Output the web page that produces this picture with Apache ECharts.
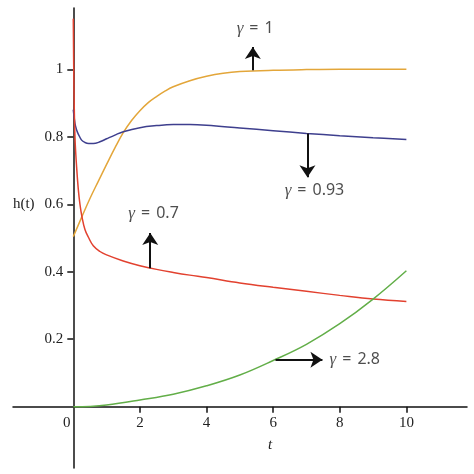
<!DOCTYPE html>
<html>
<head>
<meta charset="utf-8">
<script src="https://cdn.jsdelivr.net/npm/echarts@6/dist/echarts.min.js"></script>
<style>
html,body{margin:0;padding:0;background:#fff;}
#chart{width:474px;height:474px;}
</style>
</head>
<body>
<div id="chart"></div>
<script>
// ---- data ----
const xTicks = [2, 4, 6, 8, 10];
const xLabels = [0, 2, 4, 6, 8, 10];
const yTicks = [0.2, 0.4, 0.6, 0.8, 1];

const gamma1 = [[0,0.504],[0.25,0.561],[0.5,0.617],[0.75,0.668],[1.0,0.718],[1.25,0.767],[1.5,0.812],[1.75,0.848],[2.0,0.877],[2.25,0.901],[2.5,0.919],[2.75,0.935],[3.0,0.948],[3.5,0.966],[4.0,0.979],[4.5,0.988],[5.0,0.993],[6,0.997],[7,0.999],[8,1.0],[10,1.0]];
const gamma093 = [[0,0.88],[0.05,0.84],[0.1,0.82],[0.15,0.808],[0.25,0.79],[0.35,0.783],[0.46,0.78],[0.6,0.78],[0.8,0.785],[1.0,0.794],[1.25,0.805],[1.5,0.815],[2.0,0.827],[2.5,0.833],[3.0,0.836],[3.5,0.836],[4.0,0.834],[5,0.826],[6,0.818],[7,0.81],[8,0.803],[9,0.797],[10,0.792]];
const gamma07 = [[0,1.15],[0.02,0.95],[0.05,0.8],[0.1,0.71],[0.15,0.645],[0.2,0.6],[0.26,0.563],[0.35,0.525],[0.45,0.503],[0.6,0.477],[0.8,0.46],[1.0,0.45],[1.5,0.432],[2.0,0.418],[2.5,0.407],[3.0,0.398],[3.5,0.39],[4,0.383],[5,0.367],[6,0.354],[7,0.342],[8,0.33],[9,0.319],[10,0.312]];
const gamma28 = [[0,0],[0.5,0.001],[1,0.005],[2,0.02],[3,0.037],[4,0.062],[5,0.094],[6,0.137],[7,0.185],[8,0.246],[9,0.319],[10,0.403]];

// annotation arrows [x1, y1, x2, y2] and labels [x, y, text] in data units
const arrows = [[5.39,0.997,5.39,1.066],[7.03,0.81,7.03,0.68],[2.31,0.41,2.31,0.515],[6.07,0.139,7.48,0.139]];
const notes = [[5.46,1.12,'1'],[7.24,0.642,'0.93'],[2.41,0.573,'0.7'],[8.45,0.141,'2.8']];

const serif = '"Liberation Serif","DejaVu Serif",serif';
const sans = '"Noto Sans","DejaVu Sans",sans-serif';
const chart = echarts.init(document.getElementById('chart'), null, {renderer:'canvas'});
const G = {left:13, right:7, top:8, bottom:6};

function lineSeries(data, color){
  return {type:'line', data:data, smooth:0.4, showSymbol:false, symbol:'none',
    lineStyle:{color:color, width:1.5}, silent:true, animation:false};
}

chart.setOption({
  animation:false,
  backgroundColor:'#fff',
  grid:{left:G.left, right:G.right, top:G.top, bottom:G.bottom, containLabel:false, outerBoundsMode:'none'},
  xAxis:{
    type:'value', min:-1.81, max:11.82,
    axisLine:{onZero:false, lineStyle:{color:'#111', width:1.5}},
    axisTick:{show:true, customValues:xTicks, length:6, lineStyle:{color:'#111', width:1.5}},
    axisLabel:{customValues:xLabels, margin:9, color:'#222', fontFamily:serif, fontSize:15,
      formatter:function(v){ return v===0 ? '{z|0}' : String(v); },
      rich:{z:{padding:[0,13,0,0], fontFamily:serif, fontSize:15, color:'#222'}}},
    splitLine:{show:false},
    name:'t', nameLocation:'middle', nameGap:31,
    nameTextStyle:{fontFamily:serif, fontStyle:'italic', fontSize:15, color:'#222', padding:[0,0,0,60]}
  },
  yAxis:{
    type:'value', min:-0.1815, max:1.1815,
    axisLine:{onZero:false, lineStyle:{color:'#111', width:1.5}},
    axisTick:{show:true, customValues:yTicks, length:6, lineStyle:{color:'#111', width:1.5}},
    axisLabel:{customValues:yTicks, margin:10, color:'#222', fontFamily:serif, fontSize:15,
      formatter:function(v){ const s = String(+v.toFixed(2)); return Math.abs(v-0.6)<1e-9 ? '{h|h(t)}' + s : s; },
      rich:{h:{padding:[0,10,0,0], fontFamily:serif, fontSize:15, color:'#222'}}},
    splitLine:{show:false}
  },
  series:[
    lineSeries(gamma1, '#E3A63A'),
    lineSeries(gamma093, '#3E3F8E'),
    lineSeries(gamma07, '#E2412F'),
    lineSeries(gamma28, '#62AE48'),
    {
      type:'line', data:[], silent:true,
      markLine:{
        silent:true, animation:false,
        symbol:['none','arrow'], symbolSize:12,
        label:{show:false},
        lineStyle:{color:'#111', width:2, type:'solid'},
        emphasis:{disabled:true},
        data: arrows.map(a => [{coord:[a[0],a[1]]},{coord:[a[2],a[3]]}])
      }
    },
    {
      type:'scatter', symbolSize:0, silent:true,
      data: notes.map(n => ({value:[n[0],n[1]], name:n[2]})),
      label:{show:true, position:'inside', color:'#222', fontFamily:sans, fontSize:16,
        formatter:function(p){ return '{g|γ}{e|=}' + p.name; },
        rich:{g:{fontFamily:serif, fontStyle:'italic', fontSize:17, color:'#222'},
              e:{fontFamily:sans, fontSize:16, color:'#222', padding:[0,6,0,6]}}}
    }
  ]
});

// move both axes so that they cross at the origin (0, 0)
const px0 = chart.convertToPixel({xAxisIndex:0}, 0);
const py0 = chart.convertToPixel({yAxisIndex:0}, 0);
const H = chart.getHeight();
chart.setOption({
  yAxis:{offset: -(px0 - G.left)},
  xAxis:{offset: -((H - G.bottom) - py0)}
});
</script>
</body>
</html>
